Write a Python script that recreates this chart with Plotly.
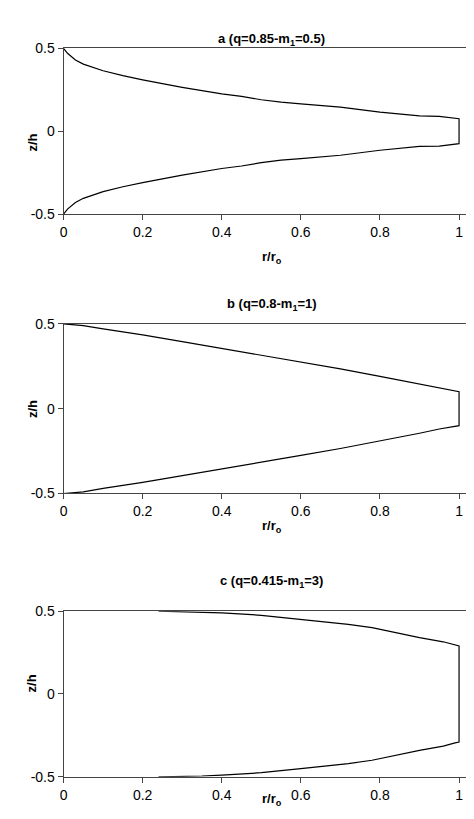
import plotly.graph_objects as go

r_a = [0, 0.01, 0.03, 0.05, 0.1, 0.15, 0.2, 0.3, 0.4, 0.45, 0.5, 0.55, 0.6, 0.7, 0.75, 0.8, 0.9, 0.95, 1.0]
z_a = [0.5, 0.47, 0.43, 0.405, 0.365, 0.335, 0.31, 0.265, 0.225, 0.21, 0.19, 0.175, 0.165, 0.145, 0.13, 0.115, 0.092, 0.09, 0.075]
r_b = [0, 0.05, 0.1, 0.2, 0.3, 0.4, 0.5, 0.6, 0.7, 0.8, 0.9, 0.95, 1.0]
z_b = [0.5, 0.49, 0.47, 0.435, 0.395, 0.355, 0.315, 0.275, 0.235, 0.19, 0.145, 0.12, 0.1]
r_c = [0.24, 0.35, 0.4, 0.5, 0.6, 0.72, 0.78, 0.9, 0.96, 0.99, 1.0]
z_c = [0.5, 0.495, 0.49, 0.475, 0.45, 0.42, 0.4, 0.34, 0.315, 0.295, 0.29]
titles = ["a (q=0.85-m<sub>1</sub>=0.5)", "b (q=0.8-m<sub>1</sub>=1)", "c (q=0.415-m<sub>1</sub>=3)"]
x_ticks = [0, 0.2, 0.4, 0.6, 0.8, 1]
y_ticks = [-0.5, 0, 0.5]

H = 819
doms = [(33, 202), (314, 487), (607, 776)]
fig = go.Figure()
font = dict(family="Liberation Sans, Arial", size=14, color="black")
bfont = dict(family="Liberation Sans, Arial", size=13, color="black")
layout = dict(width=474, height=819, margin=dict(l=0, r=0, t=0, b=0),
              plot_bgcolor="white", paper_bgcolor="white", showlegend=False, font=font)
anns = []
for i, (r, z) in enumerate([(r_a, z_a), (r_b, z_b), (r_c, z_c)]):
    xs = list(r) + list(reversed(r))
    ys = list(z) + [-v for v in reversed(z)]
    fig.add_trace(go.Scatter(x=xs, y=ys, mode="lines", line=dict(color="black", width=1.2),
                             xaxis=f"x{i+1}" if i else "x", yaxis=f"y{i+1}" if i else "y"))
    top, bot = doms[i]
    d = [1 - bot / H, 1 - top / H]
    sfx = str(i + 1) if i else ""
    layout["xaxis" + sfx] = dict(domain=[52 / 474, 470 / 474], range=[0, 1.048], tickvals=x_ticks,
                                 ticktext=[f"{v:g}" for v in x_ticks], showgrid=False, zeroline=False,
                                 showline=True, linecolor="#444", linewidth=1, mirror=True, ticks="outside",
                                 ticklen=5, anchor="y" + sfx, tickfont=font)
    layout["yaxis" + sfx] = dict(domain=d, range=[-0.5, 0.5], tickvals=y_ticks, ticktext=["-0.5", "0", "0.5"],
                                 showgrid=False, zeroline=False, showline=True, linecolor="#444", linewidth=1,
                                 mirror=True, ticks="outside", ticklen=5, anchor="x" + sfx, tickfont=font)
    anns.append(dict(text="<b>" + titles[i] + "</b>", x=262 / 474, y=1 - (top - 20) / H, xref="paper", yref="paper",
                     showarrow=False, font=bfont))
    anns.append(dict(text="<b>r/r<sub>o</sub></b>", x=262 / 474, y=1 - (bot + 34) / H, xref="paper", yref="paper",
                     showarrow=False, font=bfont))
    anns.append(dict(text="<b>z/h</b>", x=11 / 474, y=(d[0] + d[1]) / 2, xref="paper", yref="paper",
                     showarrow=False, textangle=-90, font=bfont))
layout["annotations"] = anns
fig.update_layout(**layout)
fig.write_html("out.html")
